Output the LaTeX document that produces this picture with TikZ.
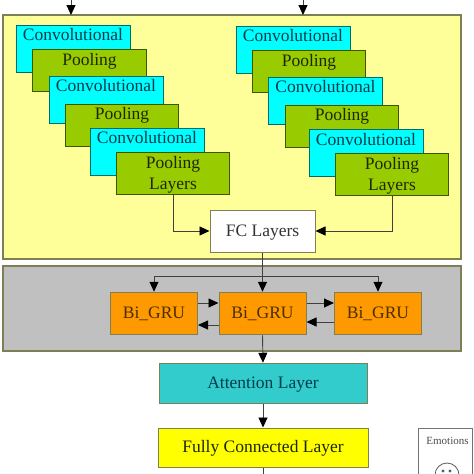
\documentclass[tikz,border=0pt]{standalone}
\usepackage{fontspec}
\setmainfont{Liberation Serif}
\usepackage{xcolor}
\usetikzlibrary{arrows.meta,positioning,calc}
\definecolor{edgeolive}{HTML}{7F7F55}
\definecolor{panelyellow}{HTML}{FFFF99}
\definecolor{panelgray}{HTML}{C0C0C0}
\definecolor{convcyan}{HTML}{00FFFF}
\definecolor{convedge}{HTML}{006B6B}
\definecolor{poolgreen}{HTML}{99CC00}
\definecolor{pooledge}{HTML}{3F5500}
\definecolor{gruorange}{HTML}{FF9900}
\definecolor{attnteal}{HTML}{33CCCC}
\definecolor{denseyellow}{HTML}{FFFF00}
\definecolor{inkteal}{HTML}{003C4C}
\definecolor{inkbrown}{HTML}{4C2E00}
\definecolor{inkgreen}{HTML}{1E2800}
\begin{document}
\begin{tikzpicture}[
  x=1pt, y=-1pt,
  every node/.style={align=center, inner sep=0pt, font=\fontsize{17.5}{21}\selectfont},
  ar/.style={-{Triangle[length=10pt,width=9pt,black]}, draw=black!75, line width=0.9pt},
  panel/.style={draw=edgeolive, line width=1.1pt},
  box/.style={draw=edgeolive, line width=1pt, text height=13pt, text depth=3pt},
  conv/.style={draw=convedge, fill=convcyan, line width=0.8pt, minimum width=114pt, minimum height=47pt,
    label={[text=inkteal, anchor=north, yshift=-4pt]north:Convolutional}},
  pool/.style={draw=pooledge, fill=poolgreen, line width=0.8pt, minimum width=113.5pt, minimum height=42pt,
    label={[text=inkgreen, anchor=north, yshift=-4pt]north:#1}},
  gru/.style={box, fill=gruorange, minimum width=87pt, minimum height=42.5pt, text=inkbrown}
]
\useasboundingbox (0,0) rectangle (474,474);
\fill[white] (0,0) rectangle (474,474);
\node[panel, fill=panelyellow, minimum width=458pt, minimum height=244pt] (top) at (232,137) {};
\node[panel, fill=panelgray, minimum width=458pt, minimum height=85pt] (mid) at (232,308.5) {};
\node[conv] (c1) at (73,48.5) {};
\node[pool=Pooling] (p1) at (89.5,70.5) {};
\node[conv] (c2) at (106,99.5) {};
\node[pool=Pooling] (p2) at (122,125) {};
\node[conv] (c3) at (147,151.5) {};
\node[pool={Pooling\\Layers}] (p3) at (173,173.5) {};
\node[conv] (c4) at (293,49.5) {};
\node[pool=Pooling] (p4) at (309,71.5) {};
\node[conv] (c5) at (325.5,100.5) {};
\node[pool=Pooling] (p5) at (342,126) {};
\node[conv] (c6) at (366,153) {};
\node[pool={Pooling\\Layers}] (p6) at (392,174.5) {};
\node[box, fill=white, minimum width=105pt, minimum height=42pt, text=black!80] (fc) at (262.5,231) {FC Layers};
\node[gru] (g1) at (154,313.5) {Bi\_GRU};
\node[gru] (g2) at (262.5,313.5) {Bi\_GRU};
\node[gru] (g3) at (378,313.5) {Bi\_GRU};
\node[box, fill=attnteal, minimum width=208pt, minimum height=40.5pt, text=inkteal] (attn) at (263,383.5) {Attention Layer};
\node[box, fill=denseyellow, minimum width=210pt, minimum height=39pt, text=inkgreen] (dense) at (263,447.5) {Fully Connected Layer};
\node[draw=black!55, fill=white, line width=0.8pt, minimum width=54pt, minimum height=60pt] (emo) at (445,458) {};
\node[font=\fontsize{11}{13}\selectfont, text=black!70] (emot) at (447.5,441) {Emotions};
\node[circle, draw=black!65, line width=0.8pt, minimum size=24pt] (face) at (447,475) {};
\fill[black!65] (443,471) circle (1.6pt) (450,471) circle (1.6pt);
\coordinate (in1) at (71,0);
\coordinate (in2) at (303,0);
\coordinate (end1) at (71,15);
\coordinate (end2) at (303,15);
\coordinate (split) at (262.5,276);
\coordinate (out) at (263,474);
\draw[ar] (in1) -- (end1);
\draw[ar] (in2) -- (end2);
\draw[ar] (p3.south) |- (fc.west);
\draw[ar] (p6.south) |- (fc.east);
\draw[ar] (fc.south) -- (g2.north);
\draw[ar] (split) -| (g1.north);
\draw[ar] (split) -| (g3.north);
\draw[ar] ($(g1.east)+(0,-10.5)$) -- ($(g2.west)+(0,-10.5)$);
\draw[ar] ($(g2.west)+(0,11.5)$) -- ($(g1.east)+(0,11.5)$);
\draw[ar] ($(g2.east)+(0,-10.5)$) -- ($(g3.west)+(0,-10.5)$);
\draw[ar] ($(g3.west)+(0,8.5)$) -- ($(g2.east)+(0,8.5)$);
\draw[ar] (g2.south) -- (attn.north);
\draw[ar] (attn.south) -- (dense.north);
\draw[draw=black!75, line width=0.9pt] (dense.south) -- (out);
\end{tikzpicture}
\end{document}
